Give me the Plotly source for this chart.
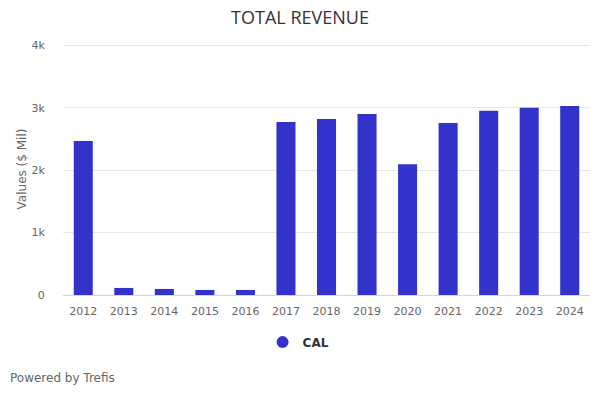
import plotly.graph_objects as go

years = ["2012", "2013", "2014", "2015", "2016", "2017", "2018", "2019", "2020", "2021", "2022", "2023", "2024"]
revenue = [2468, 113, 97, 81, 81, 2774, 2823, 2903, 2097, 2758, 2952, 3000, 3032]
series_name = "CAL"
y_tick_vals = [0, 1000, 2000, 3000, 4000]
y_tick_text = ["0", "1k", "2k", "3k", "4k"]

color = "#3333cc"
fig = go.Figure()
fig.add_trace(go.Bar(x=years, y=revenue, marker=dict(color=color, line=dict(width=0)),
                     name=series_name, showlegend=False, legendgroup="a"))
fig.add_trace(go.Scatter(x=[None], y=[None], mode="markers", name="<b>" + series_name + "</b>",
                         marker=dict(color=color, size=12, symbol="circle"), legendgroup="a"))

fig.update_layout(
    width=600, height=400,
    margin=dict(l=63, r=10, t=43, b=105),
    paper_bgcolor="white", plot_bgcolor="white",
    bargap=0.53,
    title=dict(text="TOTAL REVENUE", x=0.5, xanchor="center", y=0.955, yanchor="middle",
               font=dict(family="Open Sans", size=18, color="#333333")),
    font=dict(family="DejaVu Sans", color="#666666"),
    xaxis=dict(type="category", showgrid=False, showline=True, linecolor="#ccd6eb", linewidth=1,
               ticks="outside", ticklen=6, tickcolor="rgba(0,0,0,0)",
               tickfont=dict(size=11, color="#666666"), fixedrange=True),
    yaxis=dict(range=[0, 4040], tickvals=y_tick_vals, ticktext=y_tick_text,
               showgrid=True, gridcolor="#e6e6e6", gridwidth=1, zeroline=False,
               ticks="outside", ticklen=15, tickcolor="rgba(0,0,0,0)",
               tickfont=dict(size=11, color="#666666"),
               title=dict(text="Values ($ Mil)", font=dict(size=12, color="#666666"), standoff=2)),
    legend=dict(orientation="h", x=0.447, xanchor="center", y=-0.187, yanchor="middle",
                font=dict(family="DejaVu Sans", size=12, color="#333333"), itemsizing="constant",
                itemwidth=30),
    showlegend=True,
)
fig.add_annotation(text="Powered by Trefis", xref="paper", yref="paper", x=-55/527, xanchor="left",
                   y=(295 - 378) / 252, yanchor="middle", showarrow=False,
                   font=dict(family="DejaVu Sans", size=12, color="#666666"))
fig.write_html("out.html")
